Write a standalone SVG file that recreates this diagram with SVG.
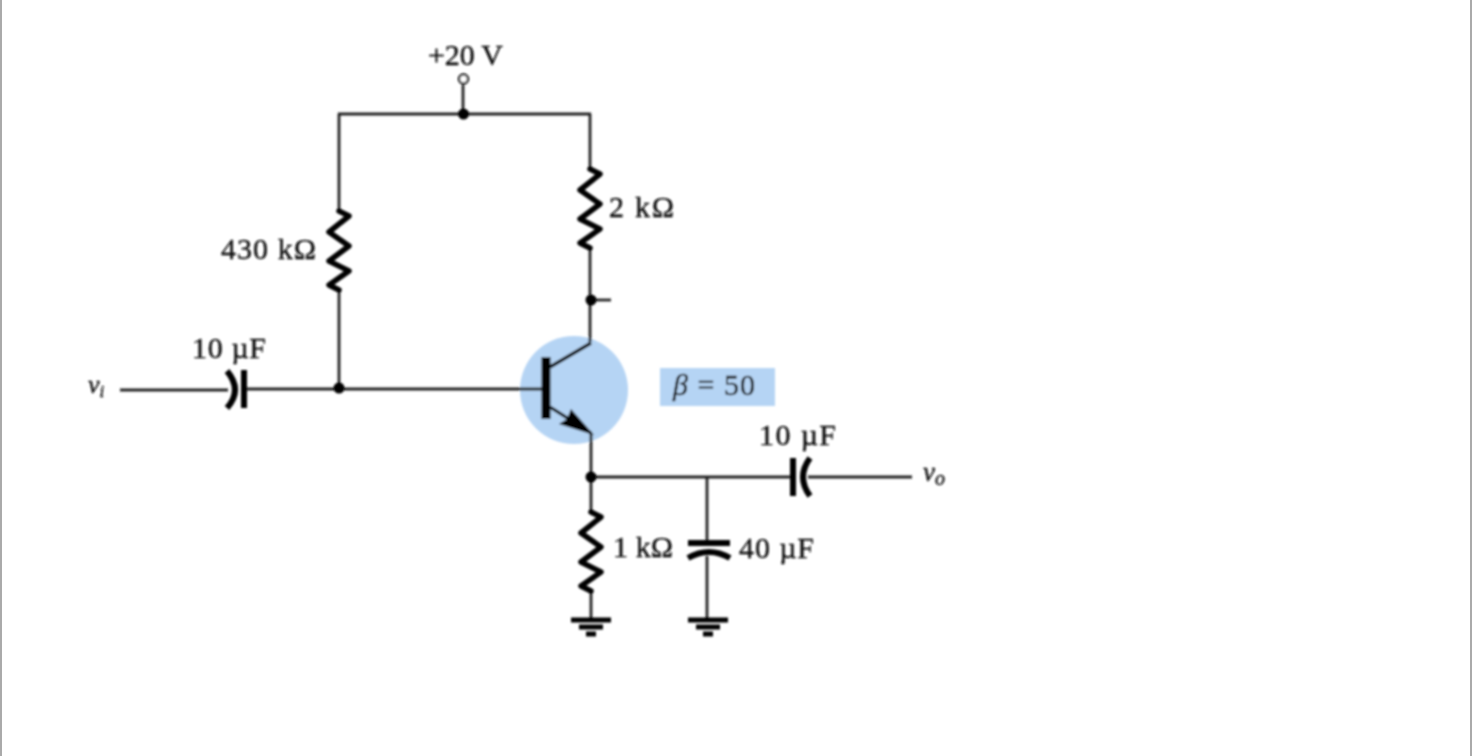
<svg xmlns="http://www.w3.org/2000/svg" width="1472" height="756" viewBox="0 0 1472 756">
<defs>
<style>
.w{fill:none;stroke:#222;stroke-width:2.800;stroke-linejoin:round}
.r{fill:none;stroke:#000;stroke-width:5.500;stroke-linejoin:round;stroke-linecap:round}
.p{fill:none;stroke:#000;stroke-width:6}
.d{fill:#000}
.g{stroke:#000;stroke-width:5}
text{font-family:"Liberation Serif","Times New Roman",serif;font-size:30px;fill:#111;stroke:#111;stroke-width:.4}
.i{font-style:italic}
</style>
<filter id="soft" filterUnits="userSpaceOnUse" x="0" y="0" width="1472" height="756"><feGaussianBlur stdDeviation="0.8"/></filter>
<path id="res" class="r" d="M0 0L10 5L-10 21L10 35L-10 50L10 60L-10 74L0 79"/>
<g id="gnd"><path class="g" d="M-20 0H20"/><path class="g" d="M-12 7H12"/><path class="g" d="M-5 14H5"/></g>
</defs>
<rect width="1472" height="756" fill="#fff"/>
<path d="M1 0V756M1471 0V756" stroke="#aaa" stroke-width="2"/>
<g filter="url(#soft)">
<circle id="transistor-body" cx="574" cy="390" r="54" fill="#b5d4f4"/>
<g id="connectors">
<path class="w" d="M463 85V114M339 212V114H590V170"/>
<path class="w" d="M339 290V388M590 248V342"/>
<path class="w" d="M590 300H611"/>
<path class="w" d="M120 390H228M247 389H543"/>
<path class="w" d="M591 434V514M591 477H792M808 477H912"/>
<path class="w" d="M591 590V620M707 477V543M707 556V620"/>
</g>
<g id="transistor">
<rect x="541.500" y="357" width="9" height="62" class="d"/>
<path d="M550 367L591 343" stroke="#000" stroke-width="3.200" fill="none"/>
<path d="M550 407L591 433" stroke="#000" stroke-width="3.200" fill="none"/>
<path class="d" d="M594 435L559 424L567 419L571 409Z"/>
</g>
<g id="junctions">
<circle class="d" cx="463.500" cy="114" r="5.500"/>
<circle class="d" cx="339" cy="388" r="5.500"/>
<circle class="d" cx="591" cy="300" r="5.500"/>
<circle class="d" cx="591" cy="477" r="5.500"/>
<circle cx="463.500" cy="79" r="4.500" fill="#fff" stroke="#111" stroke-width="2.400"/>
</g>
<g id="vcc"><text x="428" y="65" textLength="75" lengthAdjust="spacing">+20 V</text></g>
<g id="r430"><use href="#res" x="339" y="211"/><text x="221" y="259" textLength="95" lengthAdjust="spacing">430 kΩ</text></g>
<g id="r2k"><use href="#res" x="590" y="169"/><text x="609" y="217" textLength="65" lengthAdjust="spacing">2 kΩ</text></g>
<g id="r1k"><use href="#res" x="591" y="512"/><text x="613" y="557" textLength="60" lengthAdjust="spacing">1 kΩ</text></g>
<g id="cin"><path class="p" d="M227 371Q243 390 227 408"/><path class="p" d="M244 370V408"/><text x="192" y="358" textLength="74" lengthAdjust="spacing">10 µF</text></g>
<g id="cout"><path class="p" d="M793 458V496"/><path class="p" d="M810 458Q796 477 810 496"/><text x="759" y="445" textLength="77" lengthAdjust="spacing">10 µF</text></g>
<g id="cbypass"><path class="p" d="M688 543H730"/><path class="p" d="M688 558Q709 546 730 558"/><text x="739" y="558" textLength="75" lengthAdjust="spacing">40 µF</text></g>
<g id="g1"><use href="#gnd" x="591" y="620"/></g>
<g id="g2"><use href="#gnd" x="708" y="620"/></g>
<g id="beta"><rect x="660" y="368" width="115" height="38" fill="#b5d4f4"/><text x="673" y="395" textLength="82" lengthAdjust="spacing"><tspan class="i">β</tspan> = 50</text></g>
<g id="vi"><text x="88" y="393" class="i" style="font-size:26px">v<tspan style="font-size:17px" dy="4">i</tspan></text></g>
<g id="vo"><text x="923" y="481" class="i" style="font-size:27px">v<tspan style="font-size:20px" dy="4">o</tspan></text></g>
</g>
</svg>
